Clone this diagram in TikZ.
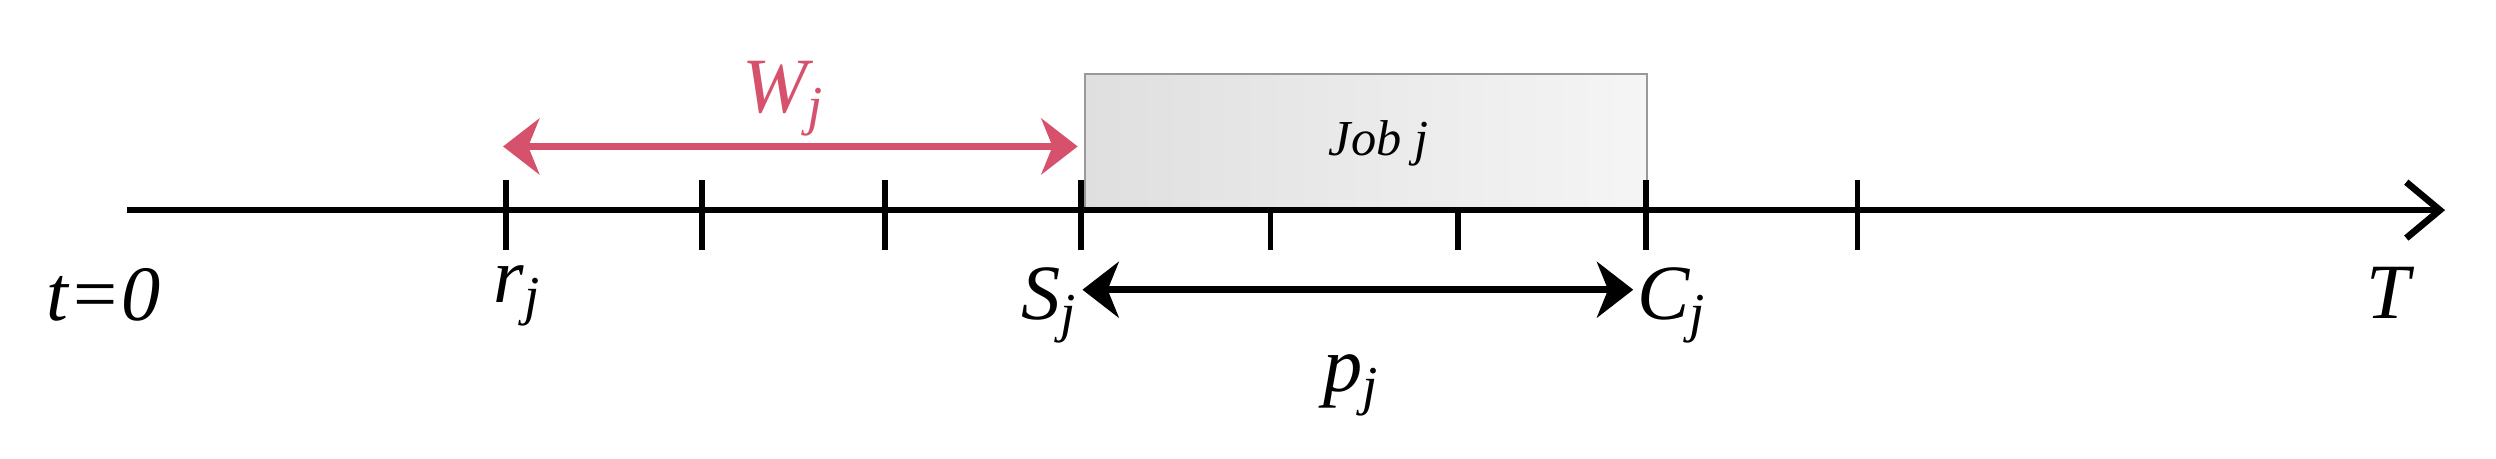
\documentclass[tikz,border=0pt]{standalone}
\usepackage{fontspec}
\setmainfont{Liberation Serif}
\usetikzlibrary{arrows.meta}
\definecolor{wred}{RGB}{214,82,108}
\begin{document}
\begin{tikzpicture}[x=0.02cm,y=-0.02cm,
  lbl/.style={font=\fontsize{28}{32}\selectfont\itshape, inner sep=0pt},
  tick/.style={line width=2pt},
  axisline/.style={line width=2.4pt},
  dimarrow/.style={line width=2.4pt, {Stealth[length=13pt,width=20pt,inset=4pt]}-{Stealth[length=13pt,width=20pt,inset=4pt]}}]
\useasboundingbox (0,0) rectangle (1568,288);
\node[draw=gray!80, line width=0.8pt, left color=gray!25, right color=gray!8, minimum width=353*0.02cm, minimum height=85*0.02cm, anchor=north west, inner sep=0pt] (job) at (681,46) {};
\node[font=\fontsize{18}{20}\selectfont\itshape] (joblbl) at (866,90) {Job j};
\coordinate (a0) at (80,132);
\coordinate (a1) at (1536,132);
\draw[axisline, -{Straight Barb[length=12pt,width=20pt,line width=2.4pt]}] (a0) -- (a1);
\foreach \x in {318,441,556,679,1034,1167} \draw[tick] (\x,113) -- (\x,157);
\foreach \x in {798,916} \draw[tick] (\x,132) -- (\x,157);
\coordinate (wl) at (316,92); \coordinate (wr) at (677,92);
\draw[dimarrow, wred] (wl) -- (wr);
\coordinate (pl) at (680,182); \coordinate (pr) at (1026,182);
\draw[dimarrow, black] (pl) -- (pr);
\node[lbl] (t0) at (65,185) {t=0};
\node[lbl] (rj) at (325,186) {r\textsubscript{j}};
\node[lbl] (sj) at (659,192) {S\textsubscript{j}};
\node[lbl] (cj) at (1050,192) {C\textsubscript{j}};
\node[lbl] (T) at (1500,184) {T};
\node[lbl] (pj) at (849,242) {p\textsubscript{j}};
\node[lbl, wred] (wj) at (492,62) {W\textsubscript{j}};
\end{tikzpicture}
\end{document}
